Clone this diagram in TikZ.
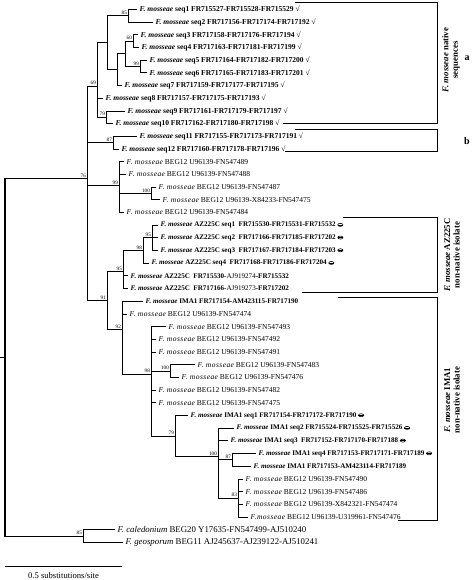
\documentclass[tikz,border=0pt]{standalone}
\usepackage{fontspec}
\setmainfont{Liberation Serif}
\newfontfamily\spfont[LetterSpace=6]{Liberation Serif}
\newcommand{\Fb}{\textit{F. mosseae}}
\newcommand{\Fsp}{{\spfont\itshape F. mosseae}}
\newcommand{\chk}{\ \textmd{√}}
\newcommand{\ovm}{\ \tikz[baseline=-0.6ex,x=1pt,y=1pt]{\draw[line width=0.6pt] (0,0) ellipse (2.6pt and 1.5pt); \draw[line width=0.4pt] (-2.6,0)--(2.6,0);}}
\tikzset{
  br/.style={line width=1pt},
  leaf/.style={anchor=west, inner xsep=2.5pt, inner ysep=0pt, font=\fontsize{7.5}{8}\selectfont},
  bleaf/.style={leaf, font=\bfseries\fontsize{7.5}{8}\selectfont},
  cleaf/.style={leaf, font=\bfseries\fontsize{7.1}{8}\selectfont},
  oleaf/.style={leaf, font=\fontsize{8.8}{9}\selectfont},
  bs/.style={anchor=south east, inner sep=0.6pt, xshift=-0.3pt, yshift=0.6pt, font=\fontsize{5.2}{5.2}\selectfont},
  side/.style={rotate=90, align=center, inner sep=0pt, font=\bfseries\fontsize{8.8}{9.6}\selectfont},
  letter/.style={inner sep=0pt, font=\bfseries\fontsize{10}{10}\selectfont},
}
\begin{document}
\begin{tikzpicture}[x=1pt,y=-12.69pt]
\useasboundingbox (0,0.2514) rectangle (474,45.957);
% internal nodes
\coordinate (rootstub) at (0,28.42);
\coordinate (root) at (5,28.42);
\coordinate (n76) at (87,14.343);
\coordinate (n69) at (97,7.042);
\coordinate (nA) at (107,3.625);
\coordinate (n85) at (128,1.5);
\coordinate (nB) at (117,5.75);
\coordinate (nC) at (125,4.5);
\coordinate (n60) at (133,3.5);
\coordinate (n99a) at (140,5.5);
\coordinate (n79) at (106,9.5);
\coordinate (n87) at (113,11.5);
\coordinate (n99b) at (119,14.875);
\coordinate (n100a) at (151,15.5);
\coordinate (n91) at (107,23.955);
\coordinate (n95b) at (123,21.667);
\coordinate (n98a) at (143,20);
\coordinate (n95a) at (152,19);
\coordinate (n92) at (122,26.244);
\coordinate (n98b) at (151,29.732);
\coordinate (n100b) at (170,29.5);
\coordinate (n79b) at (175,34.625);
\coordinate (n100c) at (218,36.25);
\coordinate (n87b) at (232,36.5);
\coordinate (n83) at (238,39.5);
\coordinate (nOut) at (83,42.5);
% leaves
\node[bleaf] (s1) at (137,1) {\Fb{} seq1 FR715527-FR715528-FR715529\chk};
\node[bleaf] (s2) at (153,2) {\Fb{} seq2 FR717156-FR717174-FR717192\chk};
\node[bleaf] (s3) at (138,3) {\Fb{} seq3 FR717158-FR717176-FR717194\chk};
\node[bleaf] (s4) at (139,4) {\Fb{} seq4 FR717163-FR717181-FR717199\chk};
\node[bleaf] (s5) at (147,5) {\Fb{} seq5 FR717164-FR717182-FR717200\chk};
\node[bleaf] (s6) at (147,6) {\Fb{} seq6 FR717165-FR717183-FR717201\chk};
\node[bleaf] (s7) at (122,7) {\Fb{} seq7 FR717159-FR717177-FR717195\chk};
\node[bleaf] (s8) at (103,8) {\Fb{} seq8 FR717157-FR717175-FR717193\chk};
\node[bleaf] (s9) at (125,9) {\Fb{} seq9 FR717161-FR717179-FR717197\chk};
\node[bleaf] (s10) at (113,10) {\Fb{} seq10 FR717162-FR717180-FR717198\chk};
\node[bleaf] (s11) at (137,11) {\Fb{} seq11 FR717155-FR717173-FR717191\chk};
\node[bleaf] (s12) at (119,12) {\Fb{} seq12 FR717160-FR717178-FR717196\chk};
\node[leaf] (b489) at (124,13) {\Fsp{} BEG12 U96139-FN547489};
\node[leaf] (b488) at (126,14) {\Fsp{} BEG12 U96139-FN547488};
\node[leaf] (b487) at (156,15) {\Fsp{} BEG12 U96139-FN547487};
\node[leaf] (b475x) at (160,16) {\Fsp{} BEG12 U96139-X84233-FN547475};
\node[leaf] (b484) at (124,17) {\Fsp{} BEG12 U96139-FN547484};
\node[cleaf] (az1) at (158,18) {\Fb{} AZ225C seq1\ \ FR715530-FR715531-FR715532\ovm};
\node[cleaf] (az2) at (158,19) {\Fb{} AZ225C seq2\ \ FR717166-FR717185-FR717202\ovm};
\node[cleaf] (az3) at (158,20) {\Fb{} AZ225C seq3\ \ FR717167-FR717184-FR717203\ovm};
\node[cleaf] (az4) at (149,21) {\Fb{} AZ225C seq4\ \ FR717168-FR717186-FR717204\ovm};
\node[cleaf] (aza) at (128,22) {\Fb{} AZ225C\ \ FR715530-\textmd{AJ919274}-FR715532};
\node[cleaf] (azb) at (128,23) {\Fb{} AZ225C\ \ FR717166-\textmd{AJ919273}-FR717202};
\node[cleaf] (imaa) at (143,24) {\Fb{} IMA1 FR717154-AM423115-FR717190};
\node[leaf] (b474) at (127,25) {\Fsp{} BEG12 U96139-FN547474};
\node[leaf] (b493) at (166,26) {\Fsp{} BEG12 U96139-FN547493};
\node[leaf] (b492) at (156,27) {\Fsp{} BEG12 U96139-FN547492};
\node[leaf] (b491) at (156,28) {\Fsp{} BEG12 U96139-FN547491};
\node[leaf] (b483) at (195,29) {\Fsp{} BEG12 U96139-FN547483};
\node[leaf] (b476) at (179,30) {\Fsp{} BEG12 U96139-FN547476};
\node[leaf] (b482) at (156,31) {\Fsp{} BEG12 U96139-FN547482};
\node[leaf] (b475) at (156,32) {\Fsp{} BEG12 U96139-FN547475};
\node[cleaf] (i1) at (188,33) {\Fb{} IMA1 seq1 FR717154-FR717172-FR717190\ovm};
\node[cleaf] (i2) at (234,34) {\Fb{} IMA1 seq2 FR715524-FR715525-FR715526\ovm};
\node[cleaf] (i3) at (228,35) {\Fb{} IMA1 seq3\ \ FR717152-FR717170-FR717188\ovm};
\node[cleaf] (i4) at (256,36) {\Fb{} IMA1 seq4 FR717153-FR717171-FR717189\ovm};
\node[cleaf] (imab) at (251,37) {\Fb{} IMA1 FR717153-AM423114-FR717189};
\node[leaf] (b490) at (243,38) {\Fsp{} BEG12 U96139-FN547490};
\node[leaf] (b486) at (243,39) {\Fsp{} BEG12 U96139-FN547486};
\node[leaf] (b474x) at (243,40) {\Fsp{} BEG12 U96139-X842321-FN547474};
\node[leaf] (b476x) at (248,41) {{\spfont\itshape F.mosseae} BEG12 U96139-U319961-FN547476};
\node[oleaf] (cal) at (115,42) {\textit{F. caledonium} BEG20 Y17635-FN547499-AJ510240};
\node[oleaf] (geo) at (123,43) {\textit{F. geosporum} BEG11 AJ245637-AJ239122-AJ510241};
% branches between internal nodes
\draw[br] (rootstub) -- (root);
\foreach \p/\c in {root/n76, root/nOut, n76/n69, n76/n87, n76/n99b, n76/n91,
  n69/nA, n69/n79, nA/n85, nA/nB, nB/nC, nC/n60, nC/n99a, n99b/n100a,
  n91/n95b, n91/n92, n95b/n98a, n98a/n95a, n92/n98b, n98b/n100b, n98b/n79b,
  n79b/n100c, n100c/n87b, n100c/n83}
  \draw[br] (\p) |- (\c);
% branches to leaves
\foreach \p/\c in {n85/s1, n85/s2, n60/s3, n60/s4, n99a/s5, n99a/s6, nB/s7,
  n69/s8, n79/s9, n79/s10, n87/s11, n87/s12, n99b/b489, n99b/b488,
  n100a/b487, n100a/b475x, n99b/b484, n95a/az1, n95a/az2, n95a/az3,
  n98a/az4, n95b/aza, n95b/azb, n92/imaa, n92/b474, n98b/b493, n98b/b492,
  n98b/b491, n100b/b483, n100b/b476, n98b/b482, n98b/b475, n79b/i1,
  n100c/i2, n100c/i3, n87b/i4, n87b/imab, n83/b490, n83/b486, n83/b474x,
  n83/b476x, nOut/cal, nOut/geo}
  \draw[br] (\p) |- (\c.west);
% bootstrap values
\node[bs] (v85) at (n85) {85};
\node[bs] (v60) at (n60) {60};
\node[bs] (v99a) at (n99a) {99};
\node[bs] (v69) at (n69) {69};
\node[bs] (v79) at (n79) {79};
\node[bs] (v87) at (n87) {87};
\node[bs] (v76) at (n76) {76};
\node[bs] (v99b) at (n99b) {99};
\node[bs] (v100a) at (n100a) {100};
\node[bs] (v95a) at (n95a) {95};
\node[bs] (v98a) at (n98a) {98};
\node[bs] (v95b) at (n95b) {95};
\node[bs] (v91) at (n91) {91};
\node[bs] (v92) at (n92) {92};
\node[bs] (v98b) at (n98b) {98};
\node[bs] (v100b) at (n100b) {100};
\node[bs] (v79b) at (n79b) {79};
\node[bs] (v100c) at (n100c) {100};
\node[bs] (v87b) at (n87b) {87};
\node[bs] (v83) at (n83) {83};
\node[bs] (v85o) at (nOut) {85};
% brackets
\draw[br] (295,0.409) -- (437,0.409) -- (437,9.944) -- (283,9.944);
\draw[br] (295,10.495) -- (437,10.495) -- (437,12.229) -- (285,12.229);
\draw[br] (343,17.352) -- (437,17.352) -- (437,23.262) -- (302,23.262);
\draw[br] (338,23.734) -- (437,23.734) -- (437,41.229) -- (398,41.229);
% side labels
\node[side] (lnat) at (451,4.98) {\textit{F. mosseae} native\\sequences};
\node[side] (laz) at (452,20.35) {\textit{F. mosseae} AZ225C\\non-native isolate};
\node[side] (lima) at (452,31.77) {\textit{F. mosseae} IMA1\\non-native isolate};
\node[letter] (la) at (467,4.82) {a};
\node[letter] (lb) at (467,11.36) {b};
% scale bar
\coordinate (sb1) at (5,44.93);
\coordinate (sb2) at (122,44.93);
\draw[br] (sb1) -- (sb2);
\node[inner sep=0pt, font=\fontsize{8.6}{9}\selectfont] (sbt) at (63.5,45.62) {0.5 substitutions/site};
\end{tikzpicture}
\end{document}
